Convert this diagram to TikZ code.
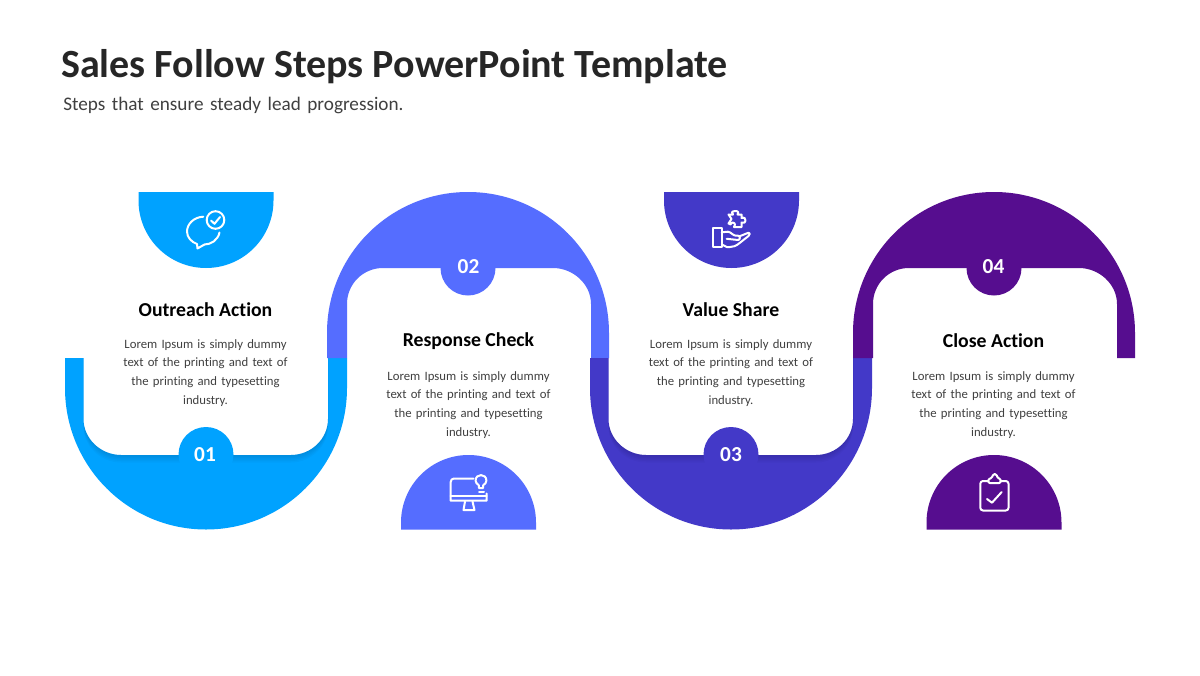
\documentclass[tikz,border=0pt]{standalone}
\usepackage{fontspec}
\setmainfont[Ligatures=NoCommon]{Carlito}
\newfontfamily\subfont[Ligatures=NoCommon,WordSpace=1.5]{Carlito}
\definecolor{cA}{HTML}{00A2FF}
\definecolor{cB}{HTML}{556DFF}
\definecolor{cC}{HTML}{4339C8}
\definecolor{cD}{HTML}{560D8F}
\definecolor{ttl}{HTML}{262626}
\definecolor{sub}{HTML}{404040}
\tikzset{
  x=0.75pt,y=-0.75pt,
  heading/.style={font=\fontsize{14.8pt}{16pt}\selectfont\bfseries,text=black,anchor=center,inner sep=0pt},
  bodytext/.style={font=\fontsize{9.55pt}{14.1pt}\selectfont,text=sub,align=center,anchor=north,inner sep=0pt,text width=135pt},
  numtext/.style={font=\fontsize{16pt}{18pt}\selectfont\bfseries,text=white,anchor=center,inner sep=0pt},
  icon/.style={draw=white,line width=1.5pt,line cap=round,line join=round,fill=none},
}
\begin{document}
\begin{tikzpicture}
\useasboundingbox (0,0) rectangle (1200,675);
\fill[white] (0,0) rectangle (1200,675);
\node[font=\fontsize{30pt}{34pt}\selectfont\bfseries,text=ttl,anchor=west,inner sep=0pt] (title) at (61,67) {Sales Follow Steps PowerPoint Template};
\node[font=\subfont\fontsize{14.4pt}{16pt}\selectfont,text=sub,anchor=west,inner sep=0pt] (subtitle) at (63,105) {Steps that ensure steady lead progression.};

% bands
\def\bandpath#1{(#1-141,358) -- (#1-141,388) .. controls (#1-141,466) and (#1-78,529.5) .. (#1,529.5) .. controls (#1+78,529.5) and (#1+141,466) .. (#1+141,388) -- (#1+141,358) -- (#1+122,358) -- (#1+122,419) .. controls (#1+122,439) and (#1+105,455) .. (#1+85,455) -- (#1-85,455) .. controls (#1-105,455) and (#1-122.5,439) .. (#1-122.5,419) -- (#1-122.5,358) -- cycle}
\def\bandlow#1#2{%
 \fill[#2] \bandpath{#1};
 \begin{scope}
 \clip \bandpath{#1};
 \foreach \d in {1.5,3,4.5,6,7.5}
  \fill[black,opacity=0.025] (#1-122.5,358) -- (#1-122.5,419+\d) .. controls (#1-122.5,439+\d) and (#1-105,455+\d) .. (#1-85,455+\d) -- (#1+85,455+\d) .. controls (#1+105,455+\d) and (#1+122,439+\d) .. (#1+122,419+\d) -- (#1+122,358) -- cycle;
 \end{scope}
 \fill[#2] (#1,454.5) circle[radius=27.5];
}
\def\bandhigh#1#2{%
 \fill[#2] (#1-141,358) -- (#1-141,333) .. controls (#1-141,255) and (#1-78,192) .. (#1,192) .. controls (#1+78,192) and (#1+141,255) .. (#1+141,333) -- (#1+141,358) -- (#1+123,358) -- (#1+123,304) .. controls (#1+123,284) and (#1+105,268) .. (#1+85,268) -- (#1-85,268) .. controls (#1-105,268) and (#1-121,284) .. (#1-121,304) -- (#1-121,358) -- cycle;
 \fill[#2] (#1,268) circle[radius=27.5];
}
\bandlow{206}{cA}
\bandhigh{468}{cB}
\bandlow{731}{cC}
\bandhigh{994}{cD}

% half discs
\fill[cA] (138.5,192) -- (138.5,200.5) arc[start angle=180,end angle=360,x radius=67.5,y radius=-67.5] -- (273.5,192) -- cycle;
\fill[cC] (664,192) -- (664,200.5) arc[start angle=180,end angle=360,x radius=67.5,y radius=-67.5] -- (799,192) -- cycle;
\fill[cB] (401,529.5) -- (401,522.5) arc[start angle=180,end angle=360,x radius=67.5,y radius=67.5] -- (536,529.5) -- cycle;
\fill[cD] (926.5,529.5) -- (926.5,522.5) arc[start angle=180,end angle=360,x radius=67.5,y radius=67.5] -- (1061.5,529.5) -- cycle;

% numbers
\node[numtext] (n1) at (205,455) {01};
\node[numtext] (n2) at (468.5,267) {02};
\node[numtext] (n3) at (731,455) {03};
\node[numtext] (n4) at (993.5,267) {04};

% headings
\node[heading] (h1) at (205.5,310) {Outreach Action};
\node[heading] (h2) at (468.5,341.5) {Response Check};
\node[heading] (h3) at (731,310) {Value Share};
\node[heading] (h4) at (993.5,341) {Close Action};

% bodies
\node[bodytext] (b1) at (205.5,339) {Lorem Ipsum is simply dummy\\text of the printing and text of\\the printing and typesetting\\industry.};
\node[bodytext] (b2) at (468.5,371) {Lorem Ipsum is simply dummy\\text of the printing and text of\\the printing and typesetting\\industry.};
\node[bodytext] (b3) at (731,339) {Lorem Ipsum is simply dummy\\text of the printing and text of\\the printing and typesetting\\industry.};
\node[bodytext] (b4) at (993.5,371) {Lorem Ipsum is simply dummy\\text of the printing and text of\\the printing and typesetting\\industry.};

% icon 1: speech bubble with check
\draw[icon] (215.5,220) circle[radius=8.8];
\draw[icon] (211,220.5) -- (214.5,223.8) -- (220,217);
\draw[icon] (203.3,216.7) .. controls (194,217) and (187,224) .. (187,231.5) .. controls (187,237.5) and (191.5,242) .. (197,244) -- (197.5,248.5) -- (204.5,244.5) .. controls (211,244.5) and (218,240) .. (219.5,232.5);

% icon 2: hand with puzzle piece
\draw[icon] (713.3,228.3) rectangle (721.7,247);
\draw[icon] (721.7,232.3) -- (728,231.7) .. controls (731,232) and (733,235.7) .. (736,235.7) -- (738,235.7) .. controls (740.5,235.7) and (740.5,240) .. (738,240) -- (726.7,238.8)
  (739,236.5) -- (748.5,232.7) .. controls (750.5,232.5) and (750,234.5) .. (748.5,236) -- (739,243.5) .. controls (736,246) and (733,247) .. (730,247) -- (726.7,247) -- (721.7,244.3);
\draw[icon] (728.5,214.5) -- (733,214.5) .. controls (731,211.5) and (732.5,211) .. (735,211) .. controls (738,211) and (739,212) .. (737.5,214.5) -- (741.5,214.5) -- (741.5,218) .. controls (744.5,217) and (745.5,218.5) .. (745.5,220.5) .. controls (745.5,222.5) and (744,223.5) .. (741.5,222.5) -- (741.5,227) -- (734,227) -- (735,224.5) .. controls (735,222) and (730.5,222) .. (730.5,224.5) -- (728.5,223.5) -- (731.5,219) -- cycle;

% icon 3: monitor with bulb
\draw[icon] (473.5,478.5) -- (454,478.5) .. controls (452,478.5) and (450.7,480) .. (450.7,482) -- (450.7,500.7) -- (486.7,500.7) -- (486.7,493.5);
\draw[icon] (450.7,496) -- (486.7,496);
\draw[icon] (465,501.5) -- (463.5,510) -- (474.5,510) -- (472.5,501.5);
\draw[icon] (478.8,488) -- (478.8,485.2) .. controls (477,484.2) and (475.6,482.5) .. (475.6,480.5) .. controls (475.6,473.3) and (486.4,473.3) .. (486.4,480.5) .. controls (486.4,482.5) and (485,484.2) .. (483.2,485.2) -- (483.2,488) -- cycle;
\draw[icon] (479,491.7) -- (484,491.7);

% icon 4: clipboard with check
\draw[icon,rounded corners=2pt] (988,481) -- (980.3,481) -- (980.3,510.5) -- (1008.5,510.5) -- (1008.5,481) -- (1000.7,481);
\draw[icon,rounded corners=1pt] (988.3,483) -- (988.3,479) -- (992,478) -- (993,474.2) -- (996.5,474.2) -- (997.5,478) -- (1000.7,479) -- (1000.7,483) -- cycle;
\draw[icon] (987,499) -- (992,502.7) -- (1001.7,492);
\end{tikzpicture}
\end{document}
